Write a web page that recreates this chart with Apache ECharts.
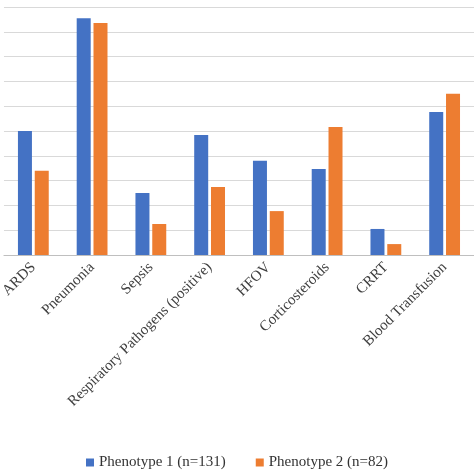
<!DOCTYPE html>
<html><head><meta charset="utf-8">
<script src="https://cdn.jsdelivr.net/npm/echarts@6/dist/echarts.min.js"></script>
<style>html,body{margin:0;padding:0;background:#fff}#c{width:474px;height:474px}</style>
</head><body><div id="c"></div>
<script>
const categories = ["ARDS","Pneumonia","Sepsis","Respiratory Pathogens (positive)","HFOV","Corticosteroids","CRRT","Blood Transfusion"];
const phenotype1 = [50, 95.5, 25, 48.4, 38, 34.7, 10.5, 57.7];
const phenotype2 = [34, 93.5, 12.5, 27.4, 17.7, 51.6, 4.4, 65];
const chart = echarts.init(document.getElementById('c'));
chart.setOption({
  animation:false,
  textStyle:{fontFamily:'Liberation Serif'},
  grid:{left:-14,width:508,top:7,bottom:219,containLabel:false},
  legend:{bottom:-1,left:'center',itemWidth:8,itemHeight:8,itemGap:30,icon:'rect',
    textStyle:{fontFamily:'Liberation Serif',fontSize:15,color:'#333'}},
  xAxis:{type:'category',data:categories,
    axisLine:{lineStyle:{color:'#bfbfbf'}},axisTick:{show:false},
    axisLabel:{rotate:45,interval:0,fontSize:15,color:'#404040',fontFamily:'Liberation Serif',margin:10}},
  yAxis:{type:'value',min:0,max:100,interval:10,axisLabel:{show:false},
    splitLine:{lineStyle:{color:'#d9d9d9'}}},
  series:[
    {name:'Phenotype 1 (n=131)',type:'bar',data:phenotype1,barWidth:14,barGap:'20%',itemStyle:{color:'#4472C4'}},
    {name:'Phenotype 2 (n=82)',type:'bar',data:phenotype2,barWidth:14,itemStyle:{color:'#ED7D31'}}
  ]
});
</script></body></html>
